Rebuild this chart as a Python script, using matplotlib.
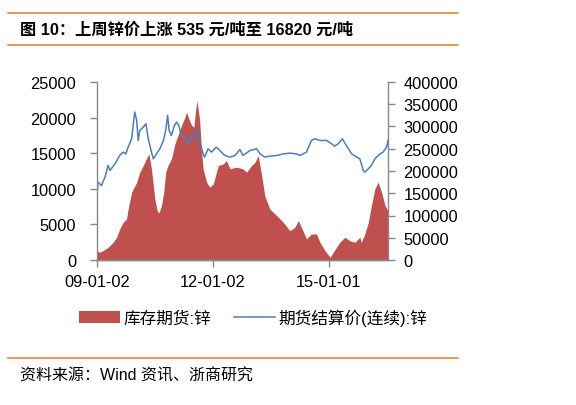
import numpy as np
import pandas as pd
import matplotlib
matplotlib.use('Agg')
import matplotlib.pyplot as plt
import matplotlib.dates as mdates
from matplotlib.lines import Line2D
from matplotlib.patches import Patch

plt.rcParams['font.family'] = ['Liberation Sans', 'Noto Sans CJK SC', 'DejaVu Sans']

# 期货结算价(连续):锌  (元/吨, 左轴)
price_dates = ['2009-01-05', '2009-01-12', '2009-02-13', '2009-03-18', '2009-04-17', '2009-05-05',
               '2009-06-21', '2009-08-04', '2009-09-06', '2009-10-01', '2009-10-23', '2009-11-25',
               '2009-12-24', '2010-01-12', '2010-01-26', '2010-02-10', '2010-03-15', '2010-04-09',
               '2010-05-01', '2010-05-31', '2010-06-18', '2010-07-17', '2010-08-19', '2010-09-21',
               '2010-10-13', '2010-10-31', '2010-11-14', '2010-12-06', '2011-01-03', '2011-01-24',
               '2011-02-14', '2011-02-25', '2011-03-11', '2011-04-13', '2011-05-12', '2011-06-03',
               '2011-06-28', '2011-07-31', '2011-08-29', '2011-10-01', '2011-10-15', '2011-11-17',
               '2011-12-20', '2012-02-02', '2012-03-07', '2012-04-23', '2012-06-10', '2012-07-27',
               '2012-09-13', '2012-10-12', '2012-12-17', '2013-02-17', '2013-03-22', '2013-05-05',
               '2013-06-21', '2013-08-26', '2013-10-27', '2013-12-28', '2014-03-01', '2014-04-02',
               '2014-06-03', '2014-07-20', '2014-08-22', '2014-10-08', '2014-12-09', '2015-01-26',
               '2015-02-24', '2015-03-29', '2015-05-08', '2015-06-18', '2015-08-04', '2015-09-21',
               '2015-10-20', '2015-11-22', '2015-12-06', '2016-01-08', '2016-02-06', '2016-03-10',
               '2016-04-27', '2016-05-26', '2016-06-28', '2016-07-05', '2016-07-12']
price = [9760, 10930, 10460, 11630, 13270, 12570,
         13500, 14680, 15150, 14900, 15850, 17020,
         20780, 19600, 16790, 18200, 18670, 19130,
         17020, 15150, 14210, 14900, 15620, 16790,
         18200, 20310, 18200, 17490, 18900, 19370,
         18900, 18200, 17490, 17260, 16320, 17490,
         16790, 18430, 16790, 14900, 14450, 15620,
         15150, 15850, 15380, 14680, 14450, 14680,
         15520, 14680, 15380, 15620, 14900, 14450,
         14590, 14680, 14900, 15010, 14900, 14680,
         15150, 16790, 17020, 16790, 16790, 16320,
         15990, 16320, 17020, 15990, 14900, 14450,
         14210, 12570, 12330, 12800, 13270, 14210,
         14900, 15150, 15850, 16285, 16820]

# 库存期货:锌  (吨, 右轴)
stock_dates = ['2009-01-05', '2009-01-23', '2009-02-28', '2009-04-17', '2009-06-03', '2009-07-06',
               '2009-08-04', '2009-09-06', '2009-10-08', '2009-10-23', '2009-11-25', '2010-01-12',
               '2010-02-10', '2010-03-15', '2010-04-13', '2010-05-08', '2010-05-31', '2010-06-18',
               '2010-07-02', '2010-07-24', '2010-08-11', '2010-09-03', '2010-09-24', '2010-10-13',
               '2010-11-03', '2010-12-06', '2011-01-08', '2011-02-06', '2011-03-11', '2011-04-13',
               '2011-04-28', '2011-05-19', '2011-06-14', '2011-07-06', '2011-07-20', '2011-08-04',
               '2011-08-29', '2011-09-16', '2011-10-01', '2011-11-03', '2011-12-02', '2012-01-05',
               '2012-02-21', '2012-04-09', '2012-05-08', '2012-06-10', '2012-08-11', '2012-10-12',
               '2012-11-14', '2013-01-01', '2013-02-03', '2013-03-04', '2013-04-06', '2013-05-05',
               '2013-06-21', '2013-08-26', '2013-10-27', '2013-12-28', '2014-02-14', '2014-03-18',
               '2014-04-16', '2014-06-03', '2014-07-20', '2014-09-06', '2014-10-08', '2014-11-25',
               '2015-01-12', '2015-02-10', '2015-04-13', '2015-05-31', '2015-07-17', '2015-09-03',
               '2015-10-20', '2015-11-03', '2015-12-06', '2016-01-08', '2016-02-06', '2016-03-10',
               '2016-04-09', '2016-05-12', '2016-06-14', '2016-07-12']
stock = [21000, 17260, 21000, 28500, 39800, 51000,
         69800, 84800, 92300, 114800, 152400, 174900,
         197400, 212400, 227400, 238700, 204900, 167400,
         137300, 111100, 105800, 122300, 152400, 197400,
         212400, 227400, 261200, 280000, 302500, 321200,
         332500, 317400, 302500, 298700, 332500, 358700,
         315000, 245000, 204900, 174900, 163600, 171100,
         212400, 216100, 223600, 204900, 208600, 204900,
         197400, 212400, 219900, 234900, 189900, 144800,
         114800, 99800, 84800, 66000, 73500, 88600,
         73500, 47300, 58500, 58500, 39800, 21000,
         6000, 17000, 39800, 51000, 43500, 39800,
         51000, 39800, 58500, 84800, 122300, 159900,
         174900, 152400, 122300, 111100]

xtick_dates = ['2009-01-02', '2012-01-02', '2015-01-01']

title = '图 10：上周锌价上涨 535 元/吨至 16820 元/吨'
source = '资料来源：Wind 资讯、浙商研究'

red = '#C0504D'
blue = '#4A7EBB'
orange = '#E87A2C'
grey = '#888888'

pd_price = pd.to_datetime(price_dates)
pd_stock = pd.to_datetime(stock_dates)

fig = plt.figure(figsize=(5.76, 4.06), dpi=100)
ax = fig.add_axes([97 / 576, 1 - 261 / 406, (388 - 97) / 576, (261 - 83) / 406])
ax2 = ax.twinx()

ax2.fill_between(pd_stock, stock, 0, color=red, linewidth=0)
ax.plot(pd_price, price, color=blue, linewidth=1.1)

ax.set_zorder(ax2.get_zorder() + 1)
ax.patch.set_visible(False)

ax.set_ylim(0, 25000)
ax.set_yticks(np.arange(0, 25001, 5000))
ax2.set_ylim(0, 400000)
ax2.set_yticks(np.arange(0, 400001, 50000))

ax.set_xlim(pd.Timestamp('2009-01-02'), pd.Timestamp('2016-07-12'))
ax.set_xticks(pd.to_datetime(xtick_dates))
ax.xaxis.set_major_formatter(mdates.DateFormatter('%y-%m-%d'))

for a in (ax, ax2):
    a.spines['top'].set_visible(False)
    for s in ('left', 'right', 'bottom'):
        a.spines[s].set_color(grey)
        a.spines[s].set_linewidth(1.0)
    a.tick_params(colors=grey, labelcolor='black', labelsize=11.8, length=5, width=1)
ax.spines['right'].set_visible(False)
ax2.spines['left'].set_visible(False)
ax.tick_params(axis='y', pad=10)
ax.tick_params(axis='x', pad=5)
ax2.tick_params(axis='y', pad=6)

handles = [Patch(facecolor=red, edgecolor='none'),
           Line2D([0], [0], color=blue, linewidth=1.1)]
fig.legend(handles, ['库存期货:锌', '期货结算价(连续):锌'], loc='center',
           bbox_to_anchor=(253 / 576, 1 - 318 / 406), ncol=2, frameon=False,
           fontsize=12, handlelength=2.45, handletextpad=0.2, columnspacing=1.4)

fig.add_artist(Line2D([8 / 576, 458 / 576], [1 - 13.5 / 406] * 2, color=orange, linewidth=1.1))
fig.add_artist(Line2D([8 / 576, 458 / 576], [1 - 46 / 406] * 2, color=orange, linewidth=1.1))
fig.add_artist(Line2D([8 / 576, 458 / 576], [1 - 359 / 406] * 2, color=orange, linewidth=1.1))

fig.text(20 / 576, 1 - 30 / 406, title, fontsize=11.7, fontweight='bold', va='center', ha='left')
fig.text(20 / 576, 1 - 376 / 406, source, fontsize=11.5, va='center', ha='left')

fig.savefig('out.png', dpi=100)
